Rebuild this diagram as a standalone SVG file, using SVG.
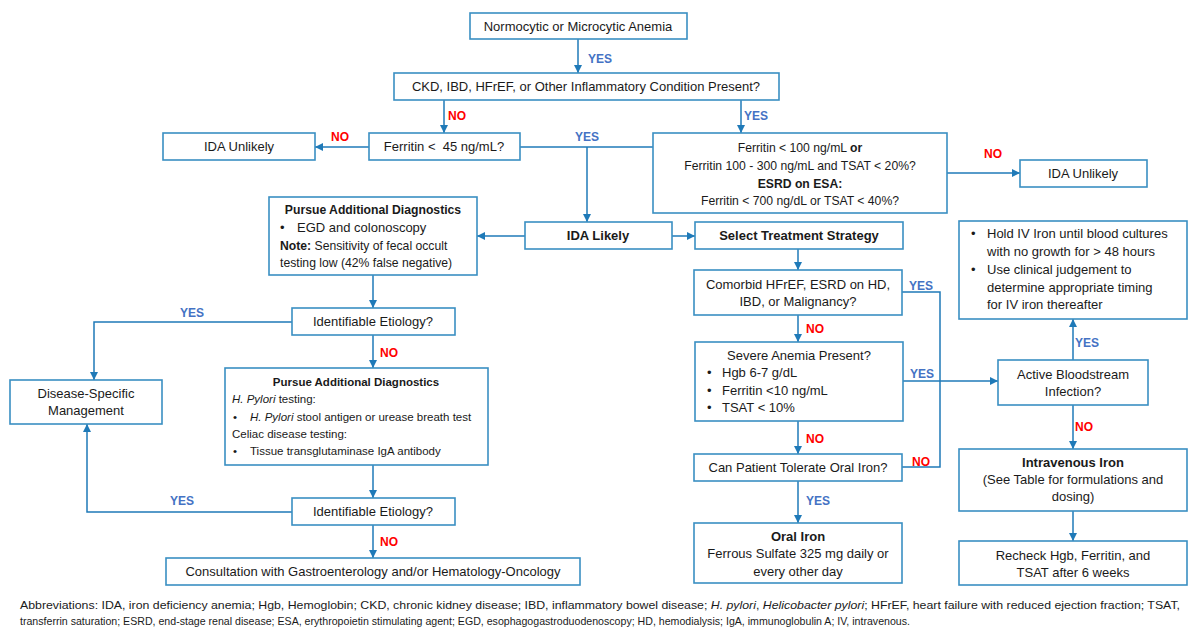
<svg xmlns="http://www.w3.org/2000/svg" width="1200" height="630" viewBox="0 0 1200 630">
<defs>
<marker id="ah" markerUnits="userSpaceOnUse" markerWidth="9" markerHeight="9" refX="8" refY="4" orient="auto">
<path d="M0,0 L8,4 L0,8 z" fill="#1f7ab8"/>
</marker>
<style>
.bx{fill:#fff;stroke:#3a8fc2;stroke-width:1.6}
.t{font-family:"Liberation Sans",Arial,sans-serif;font-size:13px;fill:#1a1a1a}
.s{font-size:11.5px}
.m{font-size:12.2px}
.c{text-anchor:middle}
.b{font-weight:bold}
.i{font-style:italic}
.ln{fill:none;stroke:#1f7ab8;stroke-width:1.5}
.ar{marker-end:url(#ah)}
.yes{font-family:"Liberation Sans",Arial,sans-serif;font-size:12px;font-weight:bold;fill:#4472c4}
.no{font-family:"Liberation Sans",Arial,sans-serif;font-size:12px;font-weight:bold;fill:#ff0000}
.ft{font-family:"Liberation Sans",Arial,sans-serif;font-size:10.5px;fill:#1a1a1a}
</style>
</defs>
<rect width="1200" height="630" fill="#fff"/>

<g id="connectors">
<path class="ln ar" d="M578,39 V73"/>
<path class="ln ar" d="M444,100 V133"/>
<path class="ln ar" d="M741,100 V133"/>
<path class="ln ar" d="M369,147 H315"/>
<path class="ln" d="M520,147 H653"/>
<path class="ln ar" d="M587,147 V222"/>
<path class="ln ar" d="M947,173 H1020"/>
<path class="ln ar" d="M525,236 H477"/>
<path class="ln ar" d="M672,236 H695"/>
<path class="ln ar" d="M798,249 V270"/>
<path class="ln ar" d="M373,275 V308"/>
<path class="ln ar" d="M292,322 H94 V380"/>
<path class="ln ar" d="M373,335 V368"/>
<path class="ln ar" d="M373,465 V498"/>
<path class="ln ar" d="M292,512 H87 V424"/>
<path class="ln ar" d="M373,525 V558"/>
<path class="ln ar" d="M798,315 V342"/>
<path class="ln" d="M902,292 H940 V467 H902"/>
<path class="ln ar" d="M903,381 H998"/>
<path class="ln ar" d="M798,421 V454"/>
<path class="ln ar" d="M798,481 V523"/>
<path class="ln ar" d="M1073,360 V319"/>
<path class="ln ar" d="M1073,405 V449"/>
<path class="ln ar" d="M1073,511 V541"/>
<text class="yes" x="588" y="63">YES</text>
<text class="no" x="448" y="120">NO</text>
<text class="yes" x="744" y="120">YES</text>
<text class="no" x="331" y="141">NO</text>
<text class="yes" x="575" y="141">YES</text>
<text class="no" x="984" y="158">NO</text>
<text class="yes" x="180" y="317">YES</text>
<text class="no" x="380" y="357">NO</text>
<text class="yes" x="170" y="505">YES</text>
<text class="no" x="380" y="546">NO</text>
<text class="yes" x="909" y="290">YES</text>
<text class="no" x="806" y="333">NO</text>
<text class="yes" x="910" y="378">YES</text>
<text class="no" x="806" y="443">NO</text>
<text class="no" x="912" y="466">NO</text>
<text class="yes" x="806" y="505">YES</text>
<text class="yes" x="1075" y="347">YES</text>
<text class="no" x="1075" y="431">NO</text>
</g>

<g id="n1"><rect class="bx" x="470" y="13" width="217" height="26"/><text class="t c" x="578" y="31">Normocytic or Microcytic Anemia</text></g>
<g id="n2"><rect class="bx" x="394" y="73" width="385" height="27"/><text class="t c" x="586" y="91">CKD, IBD, HFrEF, or Other Inflammatory Condition Present?</text></g>
<g id="n3"><rect class="bx" x="369" y="133" width="151" height="27"/><text class="t c" x="444" y="151" xml:space="preserve">Ferritin &lt;  45 ng/mL?</text></g>
<g id="n4"><rect class="bx" x="163" y="133" width="152" height="27"/><text class="t c" x="239" y="151">IDA Unlikely</text></g>
<g id="n5"><rect class="bx" x="653" y="133" width="294" height="80"/>
<text class="t m c" x="800" y="152">Ferritin &lt; 100 ng/mL <tspan class="b">or</tspan></text>
<text class="t m c" x="800" y="170">Ferritin 100 - 300 ng/mL and TSAT &lt; 20%?</text>
<text class="t m c b" x="800" y="188">ESRD on ESA:</text>
<text class="t m c" x="800" y="205">Ferritin &lt; 700 ng/dL or TSAT &lt; 40%?</text></g>
<g id="n6"><rect class="bx" x="1020" y="160" width="127" height="27"/><text class="t c" x="1083" y="178">IDA Unlikely</text></g>
<g id="n7"><rect class="bx" x="269" y="197" width="208" height="78"/>
<text class="t m c b" x="373" y="214">Pursue Additional Diagnostics</text>
<text class="t" x="280" y="232">•</text><text class="t" x="297" y="232">EGD and colonoscopy</text>
<text class="t m" x="280" y="250"><tspan class="b">Note:</tspan> Sensitivity of fecal occult</text>
<text class="t m" x="280" y="267">testing low (42% false negative)</text></g>
<g id="n8"><rect class="bx" x="525" y="222" width="147" height="27"/><text class="t c b" x="598" y="240">IDA Likely</text></g>
<g id="n9"><rect class="bx" x="695" y="222" width="208" height="27"/><text class="t c b" x="799" y="240">Select Treatment Strategy</text></g>
<g id="n10"><rect class="bx" x="694" y="270" width="208" height="45"/>
<text class="t c" x="798" y="289">Comorbid HFrEF, ESRD on HD,</text>
<text class="t c" x="798" y="306">IBD, or Malignancy?</text></g>
<g id="n11"><rect class="bx" x="959" y="221" width="228" height="98"/>
<text class="t" x="971" y="238">•</text><text class="t" x="987" y="238">Hold IV Iron until blood cultures</text>
<text class="t" x="987" y="256">with no growth for &gt; 48 hours</text>
<text class="t" x="971" y="274">•</text><text class="t" x="987" y="274">Use clinical judgement to</text>
<text class="t" x="987" y="292">determine appropriate timing</text>
<text class="t" x="987" y="309">for IV iron thereafter</text></g>
<g id="n12"><rect class="bx" x="292" y="308" width="163" height="27"/><text class="t c" x="373" y="326">Identifiable Etiology?</text></g>
<g id="n13"><rect class="bx" x="10" y="380" width="152" height="44"/>
<text class="t c" x="86" y="398">Disease-Specific</text>
<text class="t c" x="86" y="415">Management</text></g>
<g id="n14"><rect class="bx" x="225" y="368" width="263" height="97"/>
<text class="t s c b" x="356" y="386">Pursue Additional Diagnostics</text>
<text class="t s" x="232" y="403"><tspan class="i">H. Pylori</tspan> testing:</text>
<text class="t s" x="233" y="421">•</text><text class="t s" x="250" y="421"><tspan class="i">H. Pylori</tspan> stool antigen or urease breath test</text>
<text class="t s" x="232" y="438">Celiac disease testing:</text>
<text class="t s" x="233" y="455">•</text><text class="t s" x="250" y="455">Tissue transglutaminase IgA antibody</text></g>
<g id="n15"><rect class="bx" x="695" y="342" width="208" height="79"/>
<text class="t c" x="799" y="360">Severe Anemia Present?</text>
<text class="t" x="707" y="377">•</text><text class="t" x="722" y="377">Hgb 6-7 g/dL</text>
<text class="t" x="707" y="395">•</text><text class="t" x="722" y="395">Ferritin &lt;10 ng/mL</text>
<text class="t" x="707" y="412">•</text><text class="t" x="722" y="412">TSAT &lt; 10%</text></g>
<g id="n16"><rect class="bx" x="998" y="360" width="150" height="45"/>
<text class="t c" x="1073" y="379">Active Bloodstream</text>
<text class="t c" x="1073" y="396">Infection?</text></g>
<g id="n17"><rect class="bx" x="959" y="449" width="228" height="62"/>
<text class="t c b" x="1073" y="467">Intravenous Iron</text>
<text class="t c" x="1073" y="484">(See Table for formulations and</text>
<text class="t c" x="1073" y="501">dosing)</text></g>
<g id="n18"><rect class="bx" x="694" y="454" width="208" height="27"/><text class="t c" x="798" y="472">Can Patient Tolerate Oral Iron?</text></g>
<g id="n19"><rect class="bx" x="292" y="498" width="163" height="27"/><text class="t c" x="373" y="516">Identifiable Etiology?</text></g>
<g id="n20"><rect class="bx" x="166" y="558" width="414" height="27"/><text class="t c" x="373" y="576">Consultation with Gastroenterology and/or Hematology-Oncology</text></g>
<g id="n21"><rect class="bx" x="694" y="523" width="208" height="60"/>
<text class="t c b" x="798" y="541">Oral Iron</text>
<text class="t c" x="798" y="558">Ferrous Sulfate 325 mg daily or</text>
<text class="t c" x="798" y="576">every other day</text></g>
<g id="n22"><rect class="bx" x="959" y="541" width="228" height="44"/>
<text class="t c" x="1073" y="560">Recheck Hgb, Ferritin, and</text>
<text class="t c" x="1073" y="577">TSAT after 6 weeks</text></g>

<g id="footer">
<text class="ft" x="20" y="609" textLength="1160" lengthAdjust="spacingAndGlyphs">Abbreviations: IDA, iron deficiency anemia; Hgb, Hemoglobin; CKD, chronic kidney disease; IBD, inflammatory bowel disease; <tspan class="i">H. pylori</tspan>, <tspan class="i">Helicobacter pylori</tspan>; HFrEF, heart failure with reduced ejection fraction; TSAT,</text>
<text class="ft" x="20" y="625" textLength="890" lengthAdjust="spacingAndGlyphs">transferrin saturation; ESRD, end-stage renal disease; ESA, erythropoietin stimulating agent; EGD, esophagogastroduodenoscopy; HD, hemodialysis; IgA, immunoglobulin A; IV, intravenous.</text>
</g>
</svg>
